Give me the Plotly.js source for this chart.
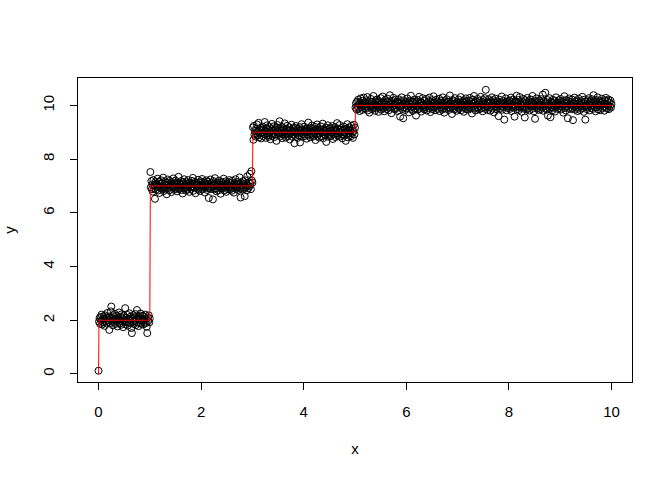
<!DOCTYPE html>
<html>
<head>
<meta charset="utf-8">
<script src="https://cdn.plot.ly/plotly-3.0.1.min.js"></script>
<style>html,body{margin:0;padding:0;background:#fff;}#chart{width:672px;height:480px;}</style>
</head>
<body>
<div id="chart"></div>
<script>
// sampling grid of x
const xStart = 0;
const xStep = 0.01;

const yAtZero = [0.12];
const ySeg1 = [ // x in (0,1]
1.95,2.08,1.87,2.12,1.98,2.21,1.84,2.03,1.92,2.15,
2.05,1.79,2.18,1.96,2.09,1.88,2.27,2.01,1.93,2.11,
1.64,2.14,1.90,2.33,2.51,1.97,2.06,1.81,2.19,2.02,
1.91,2.24,1.86,2.07,1.99,2.16,1.77,2.10,1.94,2.29,
2.03,1.89,2.13,1.83,2.22,1.97,2.05,1.74,2.17,2.00,
1.93,2.45,1.85,2.09,1.96,2.20,1.80,2.04,1.91,2.26,
2.02,1.88,2.14,1.71,1.52,2.08,1.95,2.19,1.86,2.11,
1.98,2.23,1.82,2.06,2.38,1.92,2.15,1.78,2.03,2.12,
1.90,2.25,1.87,2.07,1.99,2.17,1.84,2.01,2.13,1.94,
2.21,1.89,2.05,1.76,1.52,2.10,1.97,2.18,1.92,2.06];
const ySeg2 = [ // x in (1,3]
7.52,6.95,7.18,6.88,7.06,6.79,7.22,6.91,7.03,6.52,
7.14,6.86,7.09,6.97,7.27,6.83,7.01,7.16,6.74,7.08,
6.93,7.21,6.89,7.11,6.98,7.31,6.81,7.05,6.94,7.17,
6.87,7.12,6.69,7.04,7.24,6.92,7.07,6.84,7.19,6.99,
7.10,6.77,7.15,6.95,7.02,7.28,6.86,7.09,6.96,7.20,
6.90,7.13,6.80,7.06,6.97,7.34,6.88,7.11,6.93,7.03,
7.18,6.85,7.07,6.72,7.14,6.98,7.25,6.91,7.04,6.83,
7.16,6.94,7.09,6.87,7.22,7.00,6.78,7.12,6.95,7.06,
6.89,7.19,6.99,7.30,6.82,7.08,6.96,7.15,6.73,7.05,
7.11,6.90,7.02,7.23,6.86,7.13,6.97,6.81,7.17,7.01,
6.93,7.26,6.88,7.07,6.99,7.14,6.76,7.10,6.94,7.21,
7.03,6.85,7.16,6.92,6.55,7.08,6.97,7.24,6.89,7.12,
6.95,7.05,6.50,7.18,6.87,7.02,7.29,6.91,7.09,6.80,
7.13,6.98,7.06,6.84,7.20,6.93,7.04,6.71,7.15,7.00,
6.90,7.11,6.96,7.27,6.83,7.07,6.99,7.17,6.78,7.08,
7.02,6.88,7.14,6.95,7.22,6.86,7.05,6.97,7.12,6.82,
7.19,6.92,7.03,6.75,7.10,6.99,7.25,6.89,7.06,6.94,
7.15,6.85,7.08,6.98,7.32,6.90,6.57,7.12,6.96,7.04,
6.87,7.18,6.93,7.07,6.62,7.21,6.95,7.10,6.84,7.36,
7.01,6.91,7.14,6.99,7.45,7.08,6.88,7.55,7.20,7.12];
const ySeg3 = [ // x in (3,5]
9.18,8.72,9.24,8.91,9.05,8.84,9.13,8.97,9.29,8.88,
9.02,9.35,8.81,9.09,8.95,9.16,8.77,9.07,8.99,9.21,
8.86,9.11,8.93,9.38,9.04,8.79,9.14,8.96,9.26,8.89,
9.08,8.83,9.19,9.00,8.74,9.12,8.94,9.31,8.87,9.06,
8.98,9.22,8.82,9.10,8.92,9.17,8.68,9.03,9.27,8.90,
9.13,8.97,9.41,8.85,9.08,8.99,9.20,8.78,9.05,8.93,
9.15,8.88,9.33,9.01,8.80,9.11,8.96,9.24,8.86,9.07,
8.94,9.18,8.73,9.09,8.98,9.28,8.84,9.04,9.14,8.91,
9.02,8.59,9.16,8.87,9.23,8.95,9.06,8.79,9.12,9.00,
8.89,9.19,8.62,9.08,8.97,9.30,8.83,9.10,8.93,9.03,
9.21,8.86,9.05,8.99,9.14,8.76,9.09,8.92,9.36,8.88,
9.01,9.17,8.81,9.07,8.96,9.25,8.90,9.12,8.84,9.04,
8.98,9.20,8.71,9.10,8.94,9.29,8.87,9.06,9.15,8.80,
9.03,8.95,9.22,8.85,9.09,8.99,9.32,8.78,9.11,8.93,
9.05,8.89,9.18,8.64,9.08,8.97,9.26,8.83,9.02,9.13,
8.91,9.16,8.86,9.06,8.98,9.23,8.75,9.10,8.94,9.04,
9.19,8.82,9.07,8.96,9.34,8.88,9.12,8.90,9.01,9.27,
8.84,9.09,8.99,9.15,8.77,9.05,8.93,9.21,8.87,9.11,
9.00,8.68,9.14,8.95,9.30,8.81,9.08,8.97,9.18,8.90,
9.06,8.85,9.24,8.98,9.12,8.79,9.03,9.28,8.92,9.17];
const ySeg4 = [ // x in (5,10]
9.92,10.08,9.85,10.14,9.97,10.21,9.88,10.03,9.79,10.11,10.26,9.94,10.06,9.83,10.17,9.99,10.29,9.90,10.05,10.12,
9.87,10.19,9.96,10.31,9.81,10.09,10.00,9.73,10.15,9.93,10.24,10.04,9.86,10.13,9.98,10.35,9.91,10.07,9.80,10.18,
10.02,9.89,10.22,9.95,10.10,9.76,10.16,10.01,9.92,10.27,9.84,10.08,9.97,10.33,9.90,10.12,9.78,10.05,10.20,9.94,
10.09,9.86,10.25,9.99,10.14,9.82,10.04,10.38,9.93,10.11,9.71,10.17,9.96,10.07,10.28,9.88,10.02,9.85,10.21,10.00,
9.91,10.13,9.79,10.06,10.23,9.95,10.10,9.58,10.16,9.98,10.30,9.87,10.04,9.52,10.19,9.93,10.08,9.83,10.12,10.01,
9.89,10.26,9.97,10.11,9.74,10.05,10.18,9.92,10.36,9.86,10.03,10.14,9.80,10.09,9.96,10.22,9.90,10.07,9.62,10.15,
10.00,9.84,10.20,9.95,10.32,9.88,10.06,10.13,9.77,10.10,9.98,10.27,9.91,10.04,9.85,10.17,10.02,9.93,10.24,9.81,
10.08,9.97,10.15,9.89,10.29,10.01,9.75,10.12,9.94,10.19,9.86,10.06,10.34,9.92,10.10,9.82,10.03,10.21,9.96,10.14,
9.87,10.05,9.99,10.25,9.79,10.11,9.93,10.18,10.00,9.84,10.30,9.90,10.07,9.73,10.16,9.98,10.09,9.88,10.23,10.02,
9.94,10.13,9.83,10.06,10.37,9.91,10.10,9.97,9.68,10.20,9.89,10.04,10.15,9.85,10.27,9.96,10.08,9.80,10.12,10.01,
9.92,10.22,9.87,10.09,9.99,10.31,9.82,10.05,10.16,9.95,10.11,9.76,10.19,9.90,10.03,10.26,9.86,10.14,9.98,10.07,
9.84,10.18,9.93,10.28,10.00,9.89,10.12,9.70,10.06,10.21,9.96,10.35,9.88,10.10,9.81,10.15,10.02,9.94,10.24,9.91,
10.08,9.85,10.17,9.97,10.32,9.90,10.04,10.13,9.78,10.20,10.01,9.93,10.27,9.87,10.58,10.09,9.96,10.14,9.83,10.06,
10.23,9.92,10.11,9.80,10.16,9.99,10.30,9.88,10.05,10.19,9.74,10.10,9.95,10.25,9.86,10.03,10.14,9.91,10.08,9.60,
10.00,10.21,9.89,10.12,9.97,10.33,9.84,10.07,10.17,9.93,9.47,10.09,9.99,10.26,9.82,10.04,10.15,9.90,10.11,9.95,
10.18,9.87,10.06,10.29,9.79,10.13,9.98,10.22,9.91,10.02,9.58,10.16,9.94,10.10,10.36,9.86,10.05,9.97,10.20,9.83,
10.31,9.92,10.09,10.01,9.76,10.14,9.96,10.24,9.88,10.07,9.55,10.19,9.93,10.11,9.85,10.28,10.00,9.90,10.15,9.81,
10.04,10.22,9.95,10.12,9.87,10.35,9.99,10.06,9.78,10.17,9.50,10.08,9.94,10.26,9.89,10.13,10.02,9.83,10.19,9.97,
10.10,9.86,10.23,10.01,9.92,10.40,9.80,10.15,9.96,10.07,10.47,9.90,10.12,9.84,10.20,9.62,10.05,9.98,10.27,9.88,
9.56,10.14,9.93,10.09,9.82,10.21,10.00,9.91,10.16,9.77,10.06,10.30,9.95,10.11,9.87,10.03,10.19,9.89,10.08,9.98,
10.24,9.85,10.13,9.94,10.02,9.73,10.17,10.34,9.90,10.07,9.81,10.20,9.97,10.10,9.52,10.15,9.92,10.26,10.04,9.86,
10.12,9.99,10.22,9.88,9.45,10.08,9.95,10.29,9.84,10.14,10.01,9.91,10.18,9.79,10.06,10.25,9.93,10.10,9.83,10.03,
10.16,9.89,10.32,9.97,10.09,9.76,10.21,9.94,9.47,10.13,10.00,9.86,10.19,9.92,10.05,10.27,9.81,10.11,9.98,10.15,
9.90,10.23,10.02,9.87,10.38,10.07,9.95,10.14,9.78,10.20,9.93,10.04,10.30,9.85,10.12,9.99,10.17,9.82,10.09,10.01,
10.25,9.91,10.13,9.96,10.06,9.80,10.19,9.94,10.28,10.03,9.88,10.15,9.99,10.22,9.86,10.10,9.97,10.18,9.92,10.05];

// true step function (red line)
const stepX = [0, 0.01, 1, 1.01, 3, 3.01, 5, 5.01, 10];
const stepY = [0, 2, 2, 7, 7, 9, 9, 10, 10];

const xTicks = [0, 2, 4, 6, 8, 10];
const yTicks = [0, 2, 4, 6, 8, 10];

const yAll = [].concat(yAtZero, ySeg1, ySeg2, ySeg3, ySeg4);
const xAll = yAll.map((_, i) => +(xStart + i * xStep).toFixed(2));

const font = {family: 'Liberation Sans, Arial, sans-serif', size: 15, color: '#000'};

const traces = [
  {x: xAll, y: yAll, type: 'scatter', mode: 'markers',
   marker: {symbol: 'circle-open', size: 7, color: '#000', line: {width: 1, color: '#000'}},
   hoverinfo: 'skip', showlegend: false},
  {x: stepX, y: stepY, type: 'scatter', mode: 'lines',
   line: {color: '#ff0000', width: 1}, hoverinfo: 'skip', showlegend: false}
];

const axisBase = {
  showgrid: false, zeroline: false, showline: true, mirror: true,
  linecolor: '#000', linewidth: 1, ticks: 'outside', ticklen: 7,
  tickwidth: 1, tickcolor: '#000', tickfont: font, automargin: false
};

const layout = {
  width: 672, height: 480,
  margin: {l: 78, r: 40, t: 78, b: 98},
  paper_bgcolor: '#fff', plot_bgcolor: '#fff',
  font: font,
  showlegend: false,
  xaxis: Object.assign({}, axisBase, {
    range: [-0.4, 10.4], tickmode: 'array', tickvals: xTicks, ticktext: xTicks.map(String),
    ticklabelstandoff: 9,
    title: {text: 'x', font: font, standoff: 24}
  }),
  yaxis: Object.assign({}, axisBase, {
    range: [-0.30, 11.02], tickmode: 'array', tickvals: yTicks, ticktext: yTicks.map(String),
    tickangle: -90, ticklabelstandoff: 10,
    title: {text: 'y', font: font, standoff: 20}
  })
};

Plotly.newPlot('chart', traces, layout, {staticPlot: true, displayModeBar: false});
</script>
</body>
</html>
